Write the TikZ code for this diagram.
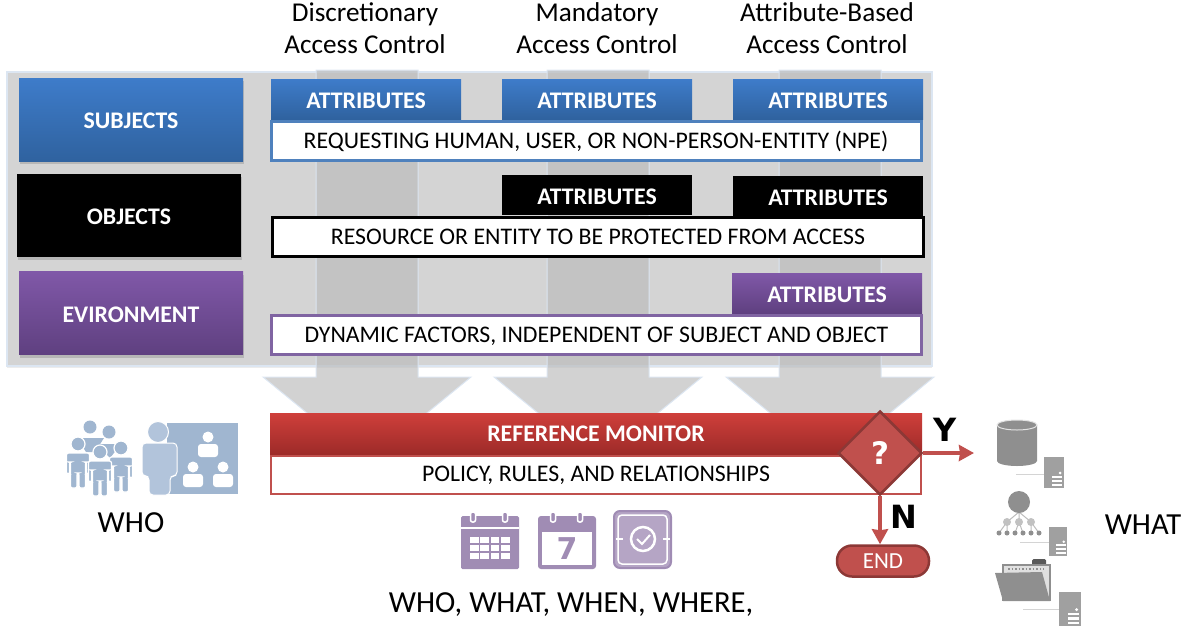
\documentclass[tikz,border=0pt]{standalone}
\usepackage{fontspec}
\setmainfont{Carlito}
\newfontfamily\heavyfont{DejaVu Sans}
\usepackage{tikz}
\usetikzlibrary{arrows,arrows.meta,shapes.geometric,shadows}
\definecolor{panelc}{HTML}{D4D4D4}
\definecolor{paneledge}{HTML}{DCE6F2}
\definecolor{bluehi}{HTML}{3E7CCA}
\definecolor{bluelo}{HTML}{2F629F}
\definecolor{blueln}{HTML}{4F81BD}
\definecolor{purphi}{HTML}{8058A8}
\definecolor{purplo}{HTML}{5F4080}
\definecolor{purpln}{HTML}{8064A2}
\definecolor{redhi}{HTML}{CF3F3B}
\definecolor{redlo}{HTML}{9C2A28}
\definecolor{redln}{HTML}{C0504D}
\definecolor{reddk}{HTML}{8C3836}
\definecolor{whoc}{HTML}{A0B6D0}
\definecolor{whol}{HTML}{B2C4DB}
\definecolor{calc}{HTML}{A08CB4}
\definecolor{safec}{HTML}{B5A5C5}
\definecolor{whatc}{HTML}{8F8F8F}
\tikzstyle{band} = [draw=paneledge, line width=1pt, fill=black!27, fill opacity=.65]
\tikzstyle{sidebox} = [rectangle, minimum width=224pt, minimum height=83pt, inner sep=0pt, text=white, text height=20pt, text depth=2pt, font=\fontsize{23.8}{26}\selectfont\bfseries, drop shadow={shadow xshift=1pt,shadow yshift=-3pt,opacity=.35}]
\tikzstyle{attr} = [rectangle, minimum width=190pt, minimum height=40pt, inner sep=0pt, text=white, text height=20pt, text depth=2pt, font=\fontsize{23.8}{26}\selectfont\bfseries]
\tikzstyle{desc} = [rectangle, minimum width=650pt, minimum height=39pt, inner sep=0pt, fill=white, line width=3pt, text height=17pt, text depth=2pt, font=\fontsize{23.8}{26}\selectfont]
\tikzstyle{head} = [align=center, font=\fontsize{27.2}{32}\selectfont]
\tikzstyle{big} = [font=\fontsize{30.6}{34}\selectfont]
\tikzstyle{arrow} = [line width=4pt,redln,-{Stealth[length=15pt,width=16pt,inset=1pt]}]
\tikzstyle{yn} = [font=\fontsize{32}{36}\selectfont\heavyfont\bfseries]
\tikzset{
  person/.pic={
    \path [pic actions] (0,0) circle (7);
    \path [pic actions, rounded corners=2pt] (-11.5,9) -- (11.5,9) -- (11.5,30) -- (8.5,30) -- (8.5,18) -- (7.5,18) -- (7.5,44) -- (1,44) -- (1,29) -- (-1,29) -- (-1,44) -- (-7.5,44) -- (-7.5,18) -- (-8.5,18) -- (-8.5,30) -- (-11.5,30) -- cycle;
  },
  bust/.pic={
    \fill [white] (0,0) circle (5.5);
    \fill [white, rounded corners=3pt] (-10,20) -- (-10,7) -- (10,7) -- (10,20) -- cycle;
  },
  srv/.pic={
    \fill [whatc!85] (0,0) rectangle (20,31);
    \fill [white] (16,16) circle (1.5);
    \fill [white] (8,19) rectangle (18,21);
    \fill [white] (8,23) rectangle (18,25);
    \fill [white] (8,27) rectangle (18,29);
  },
  ring/.pic={
    \draw [white, line width=1.5pt, fill=calc, rounded corners=2pt] (-2.5,-4) rectangle (2.5,6);
  }
}
\begin{document}
\begin{tikzpicture}[x=1pt,y=-1pt]
\useasboundingbox (0,0) rectangle (1200,630);

% panel and the three columns
\draw [draw=paneledge, line width=1.5pt, fill=panelc, drop shadow={shadow xshift=0pt,shadow yshift=-2pt,opacity=.15}] (7,72) rectangle (932,366);
\foreach \cx in {367,598,830}
  \draw [band] (\cx-51,70) -- (\cx+51,70) -- (\cx+51,377) -- (\cx+104,377) -- (\cx,462) -- (\cx-104,377) -- (\cx-51,377) -- cycle;

\node (head1) [head] at (365,28) {Discretionary\\Access Control};
\node (head2) [head] at (597,28) {Mandatory\\Access Control};
\node (head3) [head] at (827,28) {Attribute-Based\\Access Control};

\node (subj) [sidebox, top color=bluehi, bottom color=bluelo] at (131,119.5) {SUBJECTS};
\node (obj) [sidebox, fill=black] at (129,215) {OBJECTS};
\node (env) [sidebox, top color=purphi, bottom color=purplo] at (131,313) {EVIRONMENT};

\node (attr1) [attr, top color=bluehi, bottom color=bluelo] at (366,99) {ATTRIBUTES};
\node (attr2) [attr, top color=bluehi, bottom color=bluelo] at (597,99) {ATTRIBUTES};
\node (attr3) [attr, top color=bluehi, bottom color=bluelo] at (828,99) {ATTRIBUTES};
\node (attr4) [attr, fill=black] at (597,195) {ATTRIBUTES};
\node (attr5) [attr, fill=black] at (828,196) {ATTRIBUTES};
\node (attr6) [attr, top color=purphi, bottom color=purplo] at (827,293) {ATTRIBUTES};

\node (req) [desc, draw=blueln] at (596,140.5) {REQUESTING HUMAN, USER, OR NON-PERSON-ENTITY (NPE)};
\node (res) [desc, draw=black, minimum width=651pt] at (598,236.5) {RESOURCE OR ENTITY TO BE PROTECTED FROM ACCESS};
\node (dyn) [desc, draw=purpln] at (596.5,334.5) {DYNAMIC FACTORS, INDEPENDENT OF SUBJECT AND OBJECT};

% monitor
\node (mon) [rectangle, minimum width=652pt, minimum height=42pt, inner sep=0pt, top color=redhi, bottom color=redlo, text=white, text height=17pt, text depth=2pt, font=\fontsize{23.8}{26}\selectfont\bfseries] at (596,434) {REFERENCE MONITOR};
\node (pol) [rectangle, minimum width=650pt, minimum height=38pt, inner sep=0pt, fill=white, draw=redln, line width=2pt, font=\fontsize{23.8}{26}\selectfont] at (596,475) {POLICY, RULES, AND RELATIONSHIPS};
\node (q) [diamond, minimum width=84pt, minimum height=84pt, inner sep=0pt, fill=redln, draw=reddk, line width=2.5pt, text=white, font=\fontsize{31}{32}\selectfont\heavyfont\bfseries] at (880,453) {?};
\node (stop) [rectangle, rounded corners=15pt, minimum width=92pt, minimum height=31pt, inner sep=0pt, fill=redln, draw=reddk, line width=2.5pt, text=white, font=\fontsize{23}{26}\selectfont] at (883,561) {END};
\coordinate (yend) at (974,453);
\draw [arrow] (q.east) -- (yend);
\draw [arrow] (q.south) -- (q.south |- stop.north);
\node (ylab) [yn] at (945,430) {Y};
\node (nlab) [yn] at (904,517) {N};

% who
\path [fill=whoc] (90,427) circle (6.5) (109,432) circle (6.5);
\fill [whoc] (77,438) -- (104,438) -- (95,452) -- (86,452) -- cycle;
\fill [whoc] (97,444) -- (121,444) -- (110,458) -- cycle;
\pic [fill=whoc, draw=white, line width=1.2pt] at (78,444) {person};
\pic [fill=whoc, draw=white, line width=1.2pt] at (121,448) {person};
\pic [fill=whoc, draw=white, line width=1.2pt] at (100,452) {person};
\fill [whoc] (167,423) rectangle (238,494);
\draw [white, line width=1pt, fill=whol] (158,432) circle (10.5);
\draw [white, line width=1pt, fill=whol, rounded corners=4pt] (142,443) -- (177,443) -- (177,476) -- (170,476) -- (170,495) -- (149,495) -- (149,476) -- (142,476) -- cycle;
\pic at (208,437) {bust};
\pic at (193,467) {bust};
\pic at (223,467) {bust};
\node (who) [big] at (131,523) {WHO};

% calendars
\fill [calc, rounded corners=1.5pt] (461,516) rectangle (519,569);
\fill [white] (461,527) rectangle (519,529);
\foreach \i in {0,1,2,3}
  \foreach \j in {0,1,2}
    \fill [white] (470+\i*10.4,537+\j*8) rectangle +(8.6,6.2);
\pic at (473,516) {ring};
\pic at (505,516) {ring};
\fill [calc, rounded corners=3pt] (538,516) rectangle (596,569);
\fill [white] (542,532) rectangle (592,565);
\node (seven) [text=calc, font=\fontsize{30}{34}\selectfont\heavyfont\bfseries] at (567,549) {7};
\pic at (553,516) {ring};
\pic at (580,516) {ring};
\draw [calc, line width=2pt, fill=safec, rounded corners=6pt] (614,511) rectangle (671,568);
\draw [white, line width=1.5pt, rounded corners=4pt] (618,515) rectangle (667,564);
\draw [white, line width=2.5pt, fill=safec] (643,539) circle (12);
\draw [white, line width=2pt] (637,539) -- (642,544) -- (650,535);
\draw [white, line width=2pt] (616,539) -- (623,539) (663,539) -- (670,539);
\node (www) [big] at (571,605) {WHO, WHAT, WHEN, WHERE,};

% what
\draw [panelc, line width=1pt] (1016,474) -- (1044,474);
\fill [whatc] (997,425) -- (997,461) arc [start angle=180, end angle=0, x radius=20, y radius=5] -- (1037,425) -- cycle;
\draw [white!75!whatc, line width=1pt, fill=whatc] (1017,425) ellipse (20 and 5);
\pic at (1044,457) {srv};
\draw [whatc!60, line width=1pt] (1019,512) -- (1007,522) -- (999,533) (1007,522) -- (1007,533) (1019,512) -- (1019,522) -- (1015,533) (1019,522) -- (1023,533) (1019,512) -- (1031,522) -- (1031,533) (1031,522) -- (1039,533);
\fill [whatc] (1019,502) circle (11);
\foreach \px in {1007,1019,1031}
  \fill [whatc!55] (\px,522) circle (4);
\foreach \px in {999,1007,1015,1023,1031,1039}
  \fill [whatc] (\px,533) circle (2.5);
\draw [panelc, line width=1pt] (1020,542) -- (1049,542);
\pic [scale=.92] at (1049,527) {srv};
\fill [black!65, rounded corners=1.5pt] (1032,559) rectangle (1046,566);
\draw [whatc, line width=1.5pt, fill=black!12] (1003,565) rectangle (1050,600);
\draw [whatc, line width=1.5pt, dotted] (1008,569) -- (1044,569);
\fill [whatc] (995,573) -- (1042,572) -- (1050,601) -- (1003,601) -- cycle;
\draw [panelc, line width=1pt] (1023,609) -- (1059,609);
\pic [scale=1.1] at (1059,592) {srv};
\node (what) [big] at (1143,525) {WHAT};
\end{tikzpicture}
\end{document}
